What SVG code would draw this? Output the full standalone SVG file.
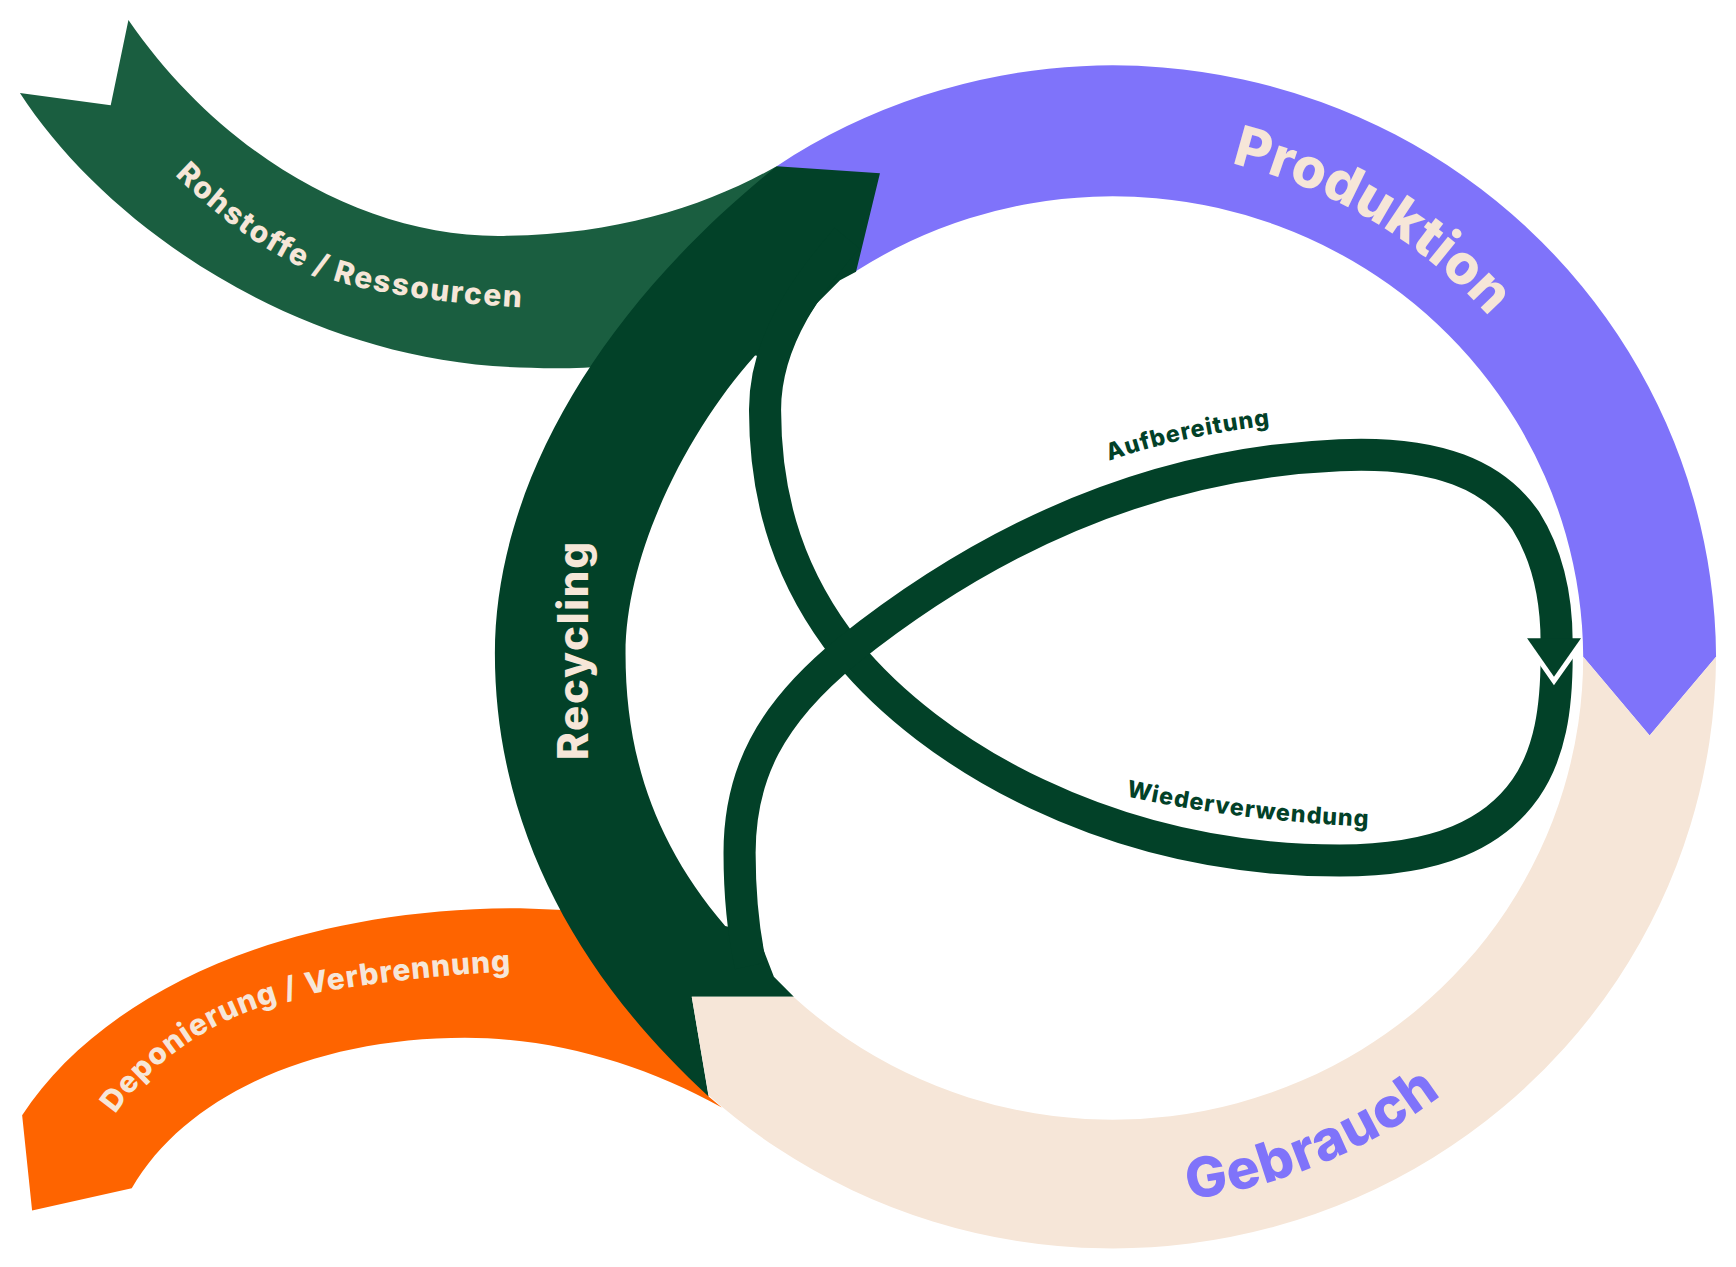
<svg xmlns="http://www.w3.org/2000/svg" width="1736" height="1267" viewBox="0 0 1736 1267">
<style>
  .lbl { font-family: "Inter", "Liberation Sans", "DejaVu Sans", sans-serif; font-weight: 800; }
  .beige-text { fill: #f6e6d8; }
  .dark { fill: #024128; }
  .strand { fill: none; stroke: #024128; stroke-width: 29; stroke-linecap: butt; }
</style>
<defs>
  <path id="p-roh" d="M 158,158 C 205,205 262,245 322,259 C 382,272 425,275 495,279"/>
  <path id="p-dep" d="M 104,1006 C 142,952 202,912 282,897 C 352,885 412,879 480,876"/>
  <path id="p-prod" d="M 1112,147.6 A 458 458 0 0 1 1456,513.5"/>
  <path id="p-geb" d="M 1073.9,1083.2 A 495 495 0 0 0 1470.1,762.3"/>
  <path id="p-auf" d="M 1002,416 Q 1070,392 1165,382"/>
  <path id="p-wie" d="M 1017,719 Q 1120,742 1250,747"/>
</defs>
<rect width="1736" height="1267" fill="#ffffff"/>
<g transform="scale(1.10714 1.10752)">
  <g id="rohstoffe">
    <path fill="#1a5e40" d="M 116,18 C 200,140 330,215 455,213 C 560,212 640,185 701.5,150 L 640,260 L 560,330 C 520,333 500,333 480,332 C 280,330 100,210 18,84 L 100,95 Z"/>
    <text class="lbl beige-text" font-size="27" letter-spacing="1.6"><textPath href="#p-roh">Rohstoffe / Ressourcen</textPath></text>
  </g>
  <g id="deponierung">
    <path fill="#fe6400" d="M 20,1007 C 90,900 250,820 470,820 L 520,822 L 600,880 L 640,990 L 652,1000 C 580,960 500,937 420,937 C 290,937 170,985 119,1073 L 29,1093 Z"/>
    <text class="lbl beige-text" font-size="27" letter-spacing="0.9"><textPath href="#p-dep">Deponierung / Verbrennung</textPath></text>
  </g>
  <g id="produktion">
    <path fill="#7f73fa" d="M 701.5,150 A 545 537 0 0 1 1550,593 L 1490,664 L 1430,593 A 425 418 0 0 0 773,245 Z"/>
  </g>
  <g id="recycling">
    <path class="dark" d="M 640,990 C 520,880 447,745 447,590 C 447,440 540,280 701.5,150 L 794.8,156.5 L 773.2,245.4 L 758.7,253 L 737.7,274 L 719.6,301 L 710.6,325 L 682,321 C 620,390 565,500 565,590 C 565,680 590,760 655,836 L 684,843 L 699,882 L 717,900 L 624.8,900 Z"/>
    <text class="lbl beige-text" font-size="38" letter-spacing="1.5" text-anchor="middle" transform="translate(531,587) rotate(-90)">Recycling</text>
  </g>
  <g id="gebrauch">
    <path fill="#f6e6d8" d="M 1550,593 A 545 537 0 0 1 640,989 L 624.8,900 L 716.6,900 A 425 418 0 0 0 1430,593 L 1490,664 Z"/>
    <text class="lbl" fill="#7f73fa" font-size="50" letter-spacing="1"><textPath href="#p-geb">Gebrauch</textPath></text>
  </g>
  <g id="produktion-label">
    <text class="lbl beige-text" font-size="50" letter-spacing="0.3"><textPath href="#p-prod">Produktion</textPath></text>
  </g>
  <g id="connectors">
    <path id="wiederverwendung" class="strand" d="M 765,215 C 740,245 691,300 691,370 C 691,455 715,525 765,588 C 840,680 1000,777 1210,777 C 1300,777 1350,752 1378,712 C 1400,680 1406,640 1406,592"/>
    <path id="aufbereitung" class="strand" d="M 678,872 C 671,840 668,810 668,770 C 668,700 695,645 765,588 C 850,520 1000,420 1210,411 C 1300,407 1350,430 1378,470 C 1400,505 1406,545 1406,580"/>
    <polyline points="1385.5,585 1403.6,611 1422,585" fill="none" stroke="#ffffff" stroke-width="9" stroke-linejoin="miter"/>
    <polygon class="dark" points="1379.3,576.3 1428,576.3 1403.6,611"/>
    <text class="lbl" fill="#024128" font-size="21" letter-spacing="0.9"><textPath href="#p-auf">Aufbereitung</textPath></text>
    <text class="lbl" fill="#024128" font-size="21" letter-spacing="0.9"><textPath href="#p-wie">Wiederverwendung</textPath></text>
  </g>
</g>
</svg>
